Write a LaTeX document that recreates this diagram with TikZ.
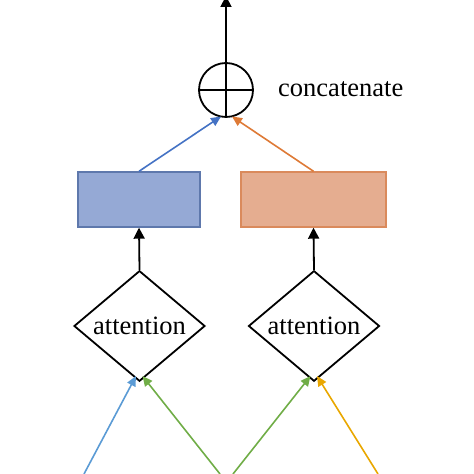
\documentclass[tikz,border=0pt]{standalone}
\usepackage{fontspec}
\setmainfont{Liberation Serif}
\usetikzlibrary{shapes.geometric,arrows.meta}
\definecolor{boxblue}{HTML}{95A9D5}
\definecolor{boxblueline}{HTML}{5E78AC}
\definecolor{boxorange}{HTML}{E5AD90}
\definecolor{boxorangeline}{HTML}{DA8A5C}
\definecolor{arrblue}{HTML}{4472C4}
\definecolor{arrorange}{HTML}{DE7A36}
\definecolor{inblue}{HTML}{5B9BD5}
\definecolor{ingreen}{HTML}{70AD47}
\definecolor{ingold}{HTML}{E9A700}
\tikzset{
  x=1pt,y=1pt,
  bigtip/.style={-{Triangle[length=11pt,width=11pt]}},
  tip/.style={-{Triangle[length=10pt,width=9pt]}},
  blk/.style={line width=1.8pt,draw=black},
  conn/.style={line width=1.6pt,tip},
  dia/.style={diamond,draw,line width=1.8pt,minimum width=131pt,minimum height=96pt,inner sep=0pt,font=\fontsize{26.5}{30}\selectfont},
  rectbox/.style={draw,line width=1.4pt,minimum height=55pt,inner sep=0pt},
}
\begin{document}
\begin{tikzpicture}
\useasboundingbox (0,0) rectangle (474,474);
\clip (0,0) rectangle (474,474);
% concatenate circle
\node[circle,blk,minimum size=54pt,inner sep=0pt] (cat) at (226,384) {};
\draw[line width=1.8pt] (cat.west) -- (cat.east);
\draw[line width=1.8pt] (cat.north) -- (cat.south);
\node[anchor=west,font=\fontsize{26.5}{30}\selectfont,inner sep=0pt] (lbl) at (278,385) {concatenate};
\coordinate (out) at (226,478);
\draw[line width=1.8pt,bigtip] (cat.north) -- (out);
% boxes
\node[rectbox,fill=boxblue,draw=boxblueline,minimum width=122pt] (bb) at (139,274.5) {};
\node[rectbox,fill=boxorange,draw=boxorangeline,minimum width=145pt] (ob) at (313.5,274.5) {};
\coordinate (catl) at (221,357.5);
\coordinate (catr) at (232,357.5);
\draw[conn,draw=arrblue,fill=arrblue] (bb.north) -- (catl);
\draw[conn,draw=arrorange,fill=arrorange] (ob.north) -- (catr);
% diamonds
\node[dia] (ld) at (139.5,148) {attention};
\node[dia] (rd) at (314,148) {attention};
\draw[line width=1.8pt,bigtip] (ld.north) -- (bb.south);
\draw[line width=1.8pt,bigtip] (rd.north) -- (ob.south);
% inputs
\coordinate (i1) at (84,0);
\coordinate (i2) at (220,0);
\coordinate (i3) at (233,0);
\coordinate (i4) at (378,0);
\coordinate (l1) at (136,98);
\coordinate (l2) at (142.5,98);
\coordinate (r1) at (310.5,98);
\coordinate (r2) at (317,98);
\draw[conn,draw=inblue,fill=inblue] (i1) -- (l1);
\draw[conn,draw=ingreen,fill=ingreen] (i2) -- (l2);
\draw[conn,draw=ingreen,fill=ingreen] (i3) -- (r1);
\draw[conn,draw=ingold,fill=ingold] (i4) -- (r2);
\end{tikzpicture}
\end{document}
